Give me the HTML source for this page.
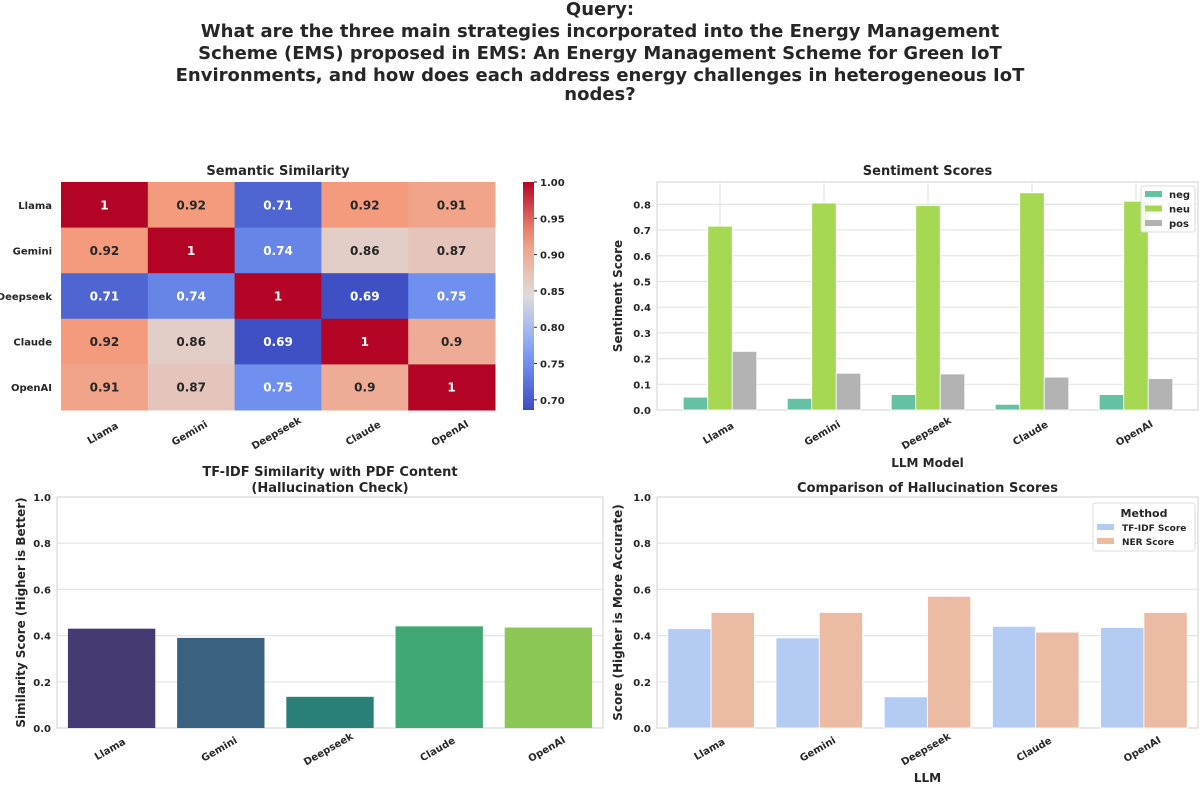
<!DOCTYPE html>
<html><head><meta charset="utf-8"><style>
body{margin:0;background:#fff;}
svg{display:block;font-family:"DejaVu Sans","Liberation Sans",sans-serif;}
</style></head><body>
<svg id="c" width="1200" height="785" viewBox="0 0 1200 785">
<g font-weight="bold" font-size="18" fill="#262626" text-anchor="middle">
<text x="600" y="15">Query:</text>
<text x="600" y="37">What are the three main strategies incorporated into the Energy Management</text>
<text x="600" y="59">Scheme (EMS) proposed in EMS: An Energy Management Scheme for Green IoT</text>
<text x="600" y="81">Environments, and how does each address energy challenges in heterogeneous IoT</text>
<text x="600" y="100">nodes?</text>
</g>
<g id="g1"></g>
<g id="g2"></g>
<g id="g3"></g>
<g id="g4"></g>
</svg>
<script>
const models = ["Llama","Gemini","Deepseek","Claude","OpenAI"];
const simMatrix = [
 [1,0.92,0.71,0.92,0.91],
 [0.92,1,0.74,0.86,0.87],
 [0.71,0.74,1,0.69,0.75],
 [0.92,0.86,0.69,1,0.9],
 [0.91,0.87,0.75,0.9,1]];
const cbTicks = [0.70,0.75,0.80,0.85,0.90,0.95,1.00];
const negVals = [0.05,0.045,0.06,0.022,0.06];
const neuVals = [0.715,0.805,0.795,0.845,0.812];
const posVals = [0.228,0.143,0.14,0.128,0.122];
const sentTicks = [0,0.1,0.2,0.3,0.4,0.5,0.6,0.7,0.8];
const tfidfVals = [0.43,0.39,0.135,0.44,0.435];
const nerVals = [0.5,0.5,0.57,0.415,0.5];
const unitTicks = [0,0.2,0.4,0.6,0.8,1.0];

const NS="http://www.w3.org/2000/svg";
function mk(p,tag,at,txt){const e=document.createElementNS(NS,tag);for(const k in at)e.setAttribute(k,at[k]);if(txt!=null)e.textContent=txt;p.appendChild(e);return e;}
function hex(c){return [1,3,5].map(i=>parseInt(c.substr(i,2),16));}
const cw=[[0,"#3b4cc0"],[0.25,"#7b9ff9"],[0.5,"#dddcdc"],[0.75,"#f49a7b"],[1,"#b40426"]];
function coolwarm(t){t=Math.max(0,Math.min(1,t));for(let i=1;i<cw.length;i++){if(t<=cw[i][0]){const a=hex(cw[i-1][1]),b=hex(cw[i][1]);const f=(t-cw[i-1][0])/(cw[i][0]-cw[i-1][0]);return "rgb("+a.map((v,j)=>Math.round(v+(b[j]-v)*f)).join(",")+")";}}return cw[4][1];}
function fmt(v){return String(+v.toFixed(2));}
function xlab(g,cx,cy,m){
  const t=mk(g,'text',{x:cx,y:cy,'text-anchor':'middle','font-size':10,'font-weight':'bold',fill:'#262626',transform:`rotate(-30 ${cx} ${cy})`},m);
  
}

// Heatmap
(function(){
 const g=document.getElementById('g1');
 const x0=61,x1=495,y0=182,y1=410,vmin=0.686,vmax=1.0;
 const cwid=(x1-x0)/5,ch=(y1-y0)/5;
 mk(g,'text',{x:(x0+x1)/2,y:175,'text-anchor':'middle','font-size':13,'font-weight':'bold',fill:'#262626'},'Semantic Similarity');
 simMatrix.forEach((row,r)=>row.forEach((v,c)=>{
  const t=(v-vmin)/(vmax-vmin);
  const cell=mk(g,'rect',{x:x0+c*cwid,y:y0+r*ch,width:cwid+0.5,height:ch+0.5,fill:coolwarm(t)});
  
  
  const tx=mk(g,'text',{x:x0+(c+0.5)*cwid,y:y0+(r+0.5)*ch+4.5,'text-anchor':'middle','font-size':12,'font-weight':'bold',fill:(t>0.8||t<0.3)?'#fff':'#262626'},fmt(v));
  
 }));
 models.forEach((m,i)=>{
  const l=mk(g,'text',{x:52,y:y0+(i+0.5)*ch+4,'text-anchor':'end','font-size':10,'font-weight':'bold',fill:'#262626'},m);
  
  xlab(g,x0+(i+0.5)*cwid,436,m);
 });
 const bx=523,bw=11;
 const defs=mk(g,'defs',{});const lg=mk(defs,'linearGradient',{id:'cbg',x1:0,y1:1,x2:0,y2:0});
 for(let i=0;i<=10;i++)mk(lg,'stop',{offset:i/10,'stop-color':coolwarm(i/10)});
 const cb=mk(g,'rect',{x:bx,y:y0,width:bw,height:y1-y0,fill:'url(#cbg)'});
 
 cbTicks.forEach(v=>{const y=y1-(v-vmin)/(vmax-vmin)*(y1-y0);
  mk(g,'line',{x1:bx+bw,x2:bx+bw+3,y1:y,y2:y,stroke:'#262626'});
  const t=mk(g,'text',{x:bx+bw+6,y:y+4,'font-size':10,'font-weight':'bold',fill:'#262626'},v.toFixed(2));
  
 });
})();

function axes(g,x0,x1,y0,y1,ymax,ticks,ydec,vgrid,centers){
 mk(g,'rect',{x:x0,y:y0,width:x1-x0,height:y1-y0,fill:'#fff',stroke:'#d9d9d9','stroke-width':1.2});
 const Y=v=>y1-v/ymax*(y1-y0);
 ticks.forEach(v=>{const y=Y(v);
  if(v>0&&v<ymax)mk(g,'line',{x1:x0,x2:x1,y1:y,y2:y,stroke:'#e5e5e5','stroke-width':1.2});
  const t=mk(g,'text',{x:x0-6,y:y+4,'text-anchor':'end','font-size':10,'font-weight':'bold',fill:'#262626'},v.toFixed(ydec));
  
 });
 if(vgrid)centers.forEach(cx=>mk(g,'line',{x1:cx,x2:cx,y1:y0,y2:y1,stroke:'#e5e5e5','stroke-width':1.2}));
 return Y;
}
function ylabel(g,x,y,txt){const t=mk(g,'text',{x:x,y:y,'text-anchor':'middle','font-size':12,'font-weight':'bold',fill:'#262626',transform:`rotate(-90 ${x} ${y})`},txt);}

// Sentiment
(function(){
 const g=document.getElementById('g2');
 const x0=657,x1=1198,y0=182,y1=410;
 const centers=models.map((m,i)=>720+104*i);
 const Y=axes(g,x0,x1,y0,y1,0.887,sentTicks,1,true,centers);
 mk(g,'text',{x:(x0+x1)/2,y:175,'text-anchor':'middle','font-size':13,'font-weight':'bold',fill:'#262626'},'Sentiment Scores');
 const series=[[negVals,'#66c2a5','neg'],[neuVals,'#a6d854','neu'],[posVals,'#b3b3b3','pos']];
 const bw=24.5;
 series.forEach(([vals,col],s)=>vals.forEach((v,i)=>{
  const r=mk(g,'rect',{x:centers[i]+(s-1.5)*bw,y:Y(v),width:bw,height:y1-Y(v),fill:col,stroke:'#fff','stroke-width':0.8});
  
  
 }));
 ylabel(g,622,(y0+y1)/2,'Sentiment Score');
 models.forEach((m,i)=>xlab(g,centers[i],436,m));
 mk(g,'text',{x:(x0+x1)/2,y:467,'text-anchor':'middle','font-size':12,'font-weight':'bold',fill:'#262626'},'LLM Model');
 const lgd=mk(g,'g',{});
 mk(lgd,'rect',{x:1141,y:186,width:54,height:46,fill:'#fff','fill-opacity':0.85,stroke:'#ddd',rx:2});
 series.forEach(([v,col,n],i)=>{mk(lgd,'rect',{x:1145,y:191+i*14.5,width:17,height:6,fill:col});
  const t=mk(lgd,'text',{x:1169,y:198+i*14.5,'font-size':10,'font-weight':'bold',fill:'#262626'},n);});
})();

// TF-IDF
(function(){
 const g=document.getElementById('g3');
 const x0=57,x1=603,y0=497,y1=728;
 const sp=(x1-x0)/5;const centers=models.map((m,i)=>x0+sp*(i+0.5));
 const Y=axes(g,x0,x1,y0,y1,1.0,unitTicks,1,false,centers);
 mk(g,'text',{x:(x0+x1)/2,y:476,'text-anchor':'middle','font-size':13,'font-weight':'bold',fill:'#262626'},'TF-IDF Similarity with PDF Content');
 mk(g,'text',{x:(x0+x1)/2,y:492,'text-anchor':'middle','font-size':13,'font-weight':'bold',fill:'#262626'},'(Hallucination Check)');
 const cols=['#463a73','#3a617f','#2a8078','#40a874','#8cc756'];
 tfidfVals.forEach((v,i)=>{const bw=sp*0.8;
  const r=mk(g,'rect',{x:centers[i]-bw/2,y:Y(v),width:bw,height:y1-Y(v),fill:cols[i]});
  
  });
 ylabel(g,25,(y0+y1)/2,'Similarity Score (Higher is Better)');
 models.forEach((m,i)=>xlab(g,centers[i],752,m));
})();

// Hallucination comparison
(function(){
 const g=document.getElementById('g4');
 const x0=657,x1=1198,y0=497,y1=728;
 const sp=(x1-x0)/5;const centers=models.map((m,i)=>x0+sp*(i+0.5));
 const Y=axes(g,x0,x1,y0,y1,1.0,unitTicks,1,false,centers);
 mk(g,'text',{x:(x0+x1)/2,y:492,'text-anchor':'middle','font-size':13,'font-weight':'bold',fill:'#262626'},'Comparison of Hallucination Scores');
 const series=[[tfidfVals,'#b4ccf4','TF-IDF Score'],[nerVals,'#ecbba3','NER Score']];
 const bw=sp*0.4;
 series.forEach(([vals,col],s)=>vals.forEach((v,i)=>{
  const r=mk(g,'rect',{x:centers[i]+(s-1)*bw,y:Y(v),width:bw,height:y1-Y(v),fill:col,stroke:'#fff','stroke-width':0.8});
  
  }));
 ylabel(g,622,(y0+y1)/2,'Score (Higher is More Accurate)');
 models.forEach((m,i)=>xlab(g,centers[i],752,m));
 mk(g,'text',{x:(x0+x1)/2,y:782,'text-anchor':'middle','font-size':12,'font-weight':'bold',fill:'#262626'},'LLM');
 const lgd=mk(g,'g',{});
 mk(lgd,'rect',{x:1093,y:503,width:102,height:48,fill:'#fff',stroke:'#ddd',rx:2});
 mk(lgd,'text',{x:1144,y:517,'text-anchor':'middle','font-size':11,'font-weight':'bold',fill:'#262626'},'Method');
 series.forEach(([v,col,n],i)=>{mk(lgd,'rect',{x:1097,y:524+i*14,width:17,height:6,fill:col});
  const t=mk(lgd,'text',{x:1122,y:531+i*14,'font-size':9,'font-weight':'bold',fill:'#262626'},n);});
})();
</script>
</body></html>
